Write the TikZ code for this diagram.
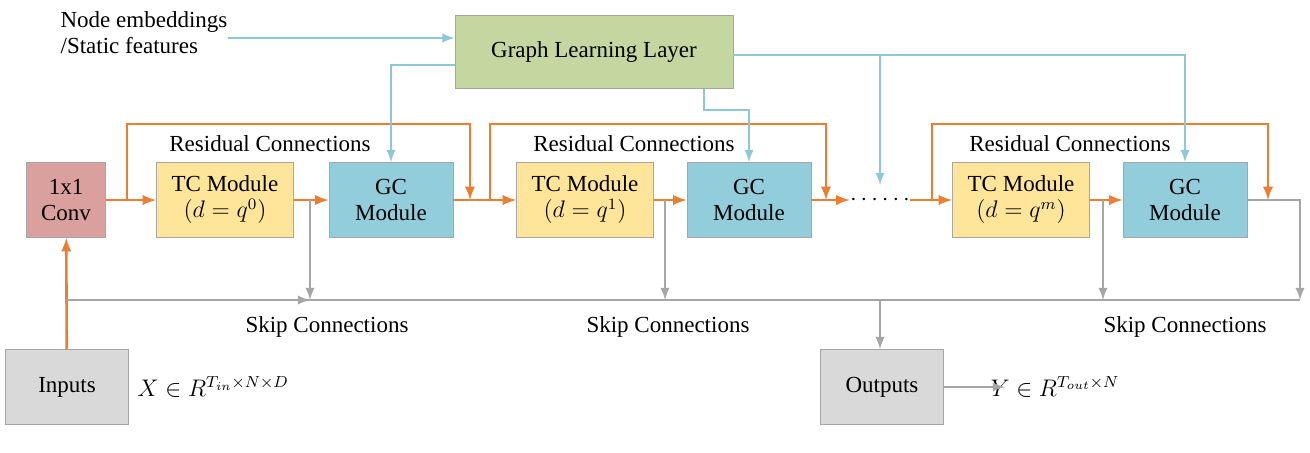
\documentclass[tikz,border=0pt]{standalone}
\usepackage{fontspec}
\setmainfont{Liberation Serif}
\usetikzlibrary{arrows}
\definecolor{resorange}{RGB}{237,125,49}
\definecolor{gllblue}{RGB}{140,200,215}
\definecolor{skipgray}{RGB}{166,166,166}
\tikzset{
  >=latex,
  {box/.style} ={draw=black!35, minimum width=#1, minimum height=37.5pt,
                 align=center, inner sep=0, font=\fontsize{11.5}{13}\selectfont},
  {conv box/.style} ={box=39.5pt, fill={rgb,255:red,218;green,160;blue,158}},
  {tc box/.style} ={box=68.5pt, fill={rgb,255:red,255;green,229;blue,153}},
  {gc box/.style} ={box=62pt, fill={rgb,255:red,146;green,205;blue,220}},
  {io box/.style} ={box=61.5pt, fill={rgb,255:red,217;green,217;blue,217}},
  {res edge/.style} ={draw=resorange, line width=1.3pt, ->},
  {gll edge/.style} ={draw=gllblue, line width=1.1pt, ->},
  {skip edge/.style} ={draw=skipgray, line width=1.1pt, ->},
  {label text/.style} ={font=\fontsize{11.5}{13}\selectfont, inner sep=0},
}
\begin{document}
\begin{tikzpicture}[x=0.5pt,y=-0.5pt]
\useasboundingbox (0,0) rectangle (1310,452);

% nodes
\node[conv box] (conv) at (66,200) {1x1\\Conv};
\node[tc box] (tc0) at (225,200) {TC Module\\$\left(d=q^{0}\right)$};
\node[gc box] (gc0) at (391,200) {GC\\Module};
\node[tc box] (tc1) at (585,200) {TC Module\\$\left(d=q^{1}\right)$};
\node[gc box] (gc1) at (749,200) {GC\\Module};
\node[label text] (dots) at (880,200) {\textbf{$\cdots\cdots$}};
\node[tc box] (tcm) at (1021,200) {TC Module\\$\left(d=q^{m}\right)$};
\node[gc box] (gcm) at (1185,200) {GC\\Module};
\node[draw=black!35, fill={rgb,255:red,196;green,215;blue,160},
      minimum width=139pt, minimum height=36.5pt,
      font=\fontsize{11.5}{13}\selectfont] (gll) at (594,52) {Graph Learning Layer};
\node[io box] (inputs) at (67,387) {Inputs};
\node[io box] (outputs) at (882,387) {Outputs};

% texts
\node[label text, align=left] (emb) at (144,33) {Node embeddings\\/Static features};
\node[label text] (res0) at (270,144) {Residual Connections};
\node[label text] (res1) at (634,144) {Residual Connections};
\node[label text] (resm) at (1070,144) {Residual Connections};
\node[label text] (skip0) at (327,327) {Skip Connections};
\node[label text] (skip1) at (668,327) {Skip Connections};
\node[label text] (skipm) at (1185,327) {Skip Connections};
\node[label text] (xin) at (213,387) {$X\in R^{T_{in}\times N\times D}$};
\node[label text] (yout) at (1055,387) {$Y\in R^{T_{out}\times N}$};

\coordinate (skipstart) at (66,300);
\coordinate (skipend) at (1300,300);

% main chain
\draw[res edge] (inputs) -- (conv);
\draw[res edge] (conv) -- (tc0);
\draw[res edge] (tc0) -- (gc0);
\draw[res edge] (gc0) -- (tc1);
\draw[res edge] (tc1) -- (gc1);
\draw[res edge] (gc1) -- (dots);
\draw[res edge] (dots) -- (tcm);
\draw[res edge] (tcm) -- (gcm);

% residual connections
\draw[res edge] (127,200) |- (470,124) -- (470,200);
\draw[res edge] (490,200) |- (826,124) -- (826,200);
\draw[res edge] (932,200) |- (1268,124) -- (1268,200);

% graph learning
\draw[gll edge] (emb.east |- 0,38) -- (gll.west |- 0,38);
\draw[gll edge] (gll.west |- 0,65) -| (gc0.north);
\draw[gll edge] (gll.south -| 704,0) |- (749,110) -- (gc1.north);
\draw[gll edge] (gll.east |- 0,55) -| (gcm.north);
\draw[gll edge] (880,55) -- (880,185);

% skip connections
\draw[skip edge] (skipstart) -- (310,300);
\draw[skip edge] (310,200) -- (310,300);
\draw[skip edge] (665,200) -- (665,300);
\draw[skip edge] (1103,200) -- (1103,300);
\draw[skip edge] (gcm.east) -| (skipend);
\draw[draw=skipgray, line width=1.1pt] (skipstart) -- (skipend);
\draw[skip edge] (880,300) -- (outputs.north -| 880,0);
\draw[skip edge] (outputs) -- (1005,387);
\end{tikzpicture}
\end{document}
